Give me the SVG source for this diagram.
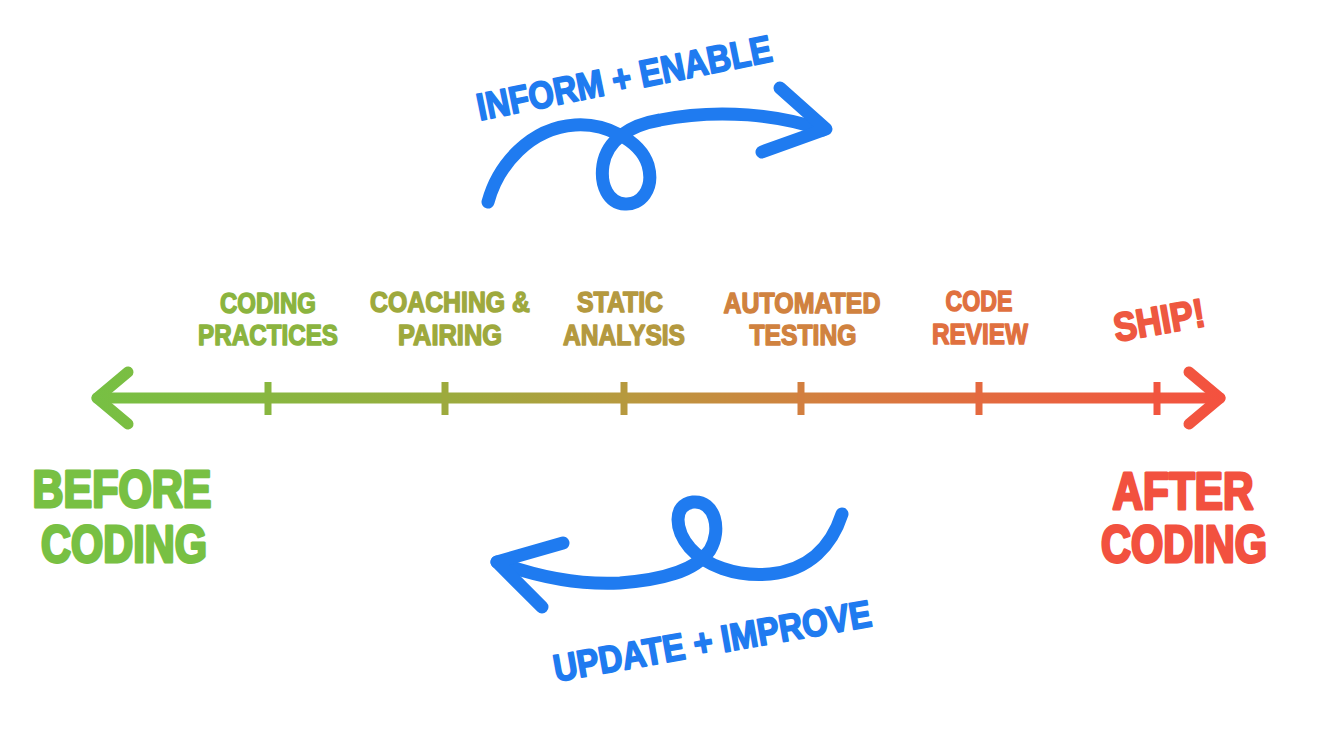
<svg xmlns="http://www.w3.org/2000/svg" width="1326" height="742" viewBox="0 0 1326 742">
<defs>
<linearGradient id="axisGrad" gradientUnits="userSpaceOnUse" x1="95" y1="0" x2="1222" y2="0">
<stop offset="0" stop-color="#77C043"/>
<stop offset="0.3" stop-color="#98AD3E"/>
<stop offset="0.47" stop-color="#B8993F"/>
<stop offset="0.65" stop-color="#D47E3F"/>
<stop offset="0.85" stop-color="#E8633F"/>
<stop offset="1" stop-color="#F4513F"/>
</linearGradient>
</defs>
<style>
.lbl{font-family:"Liberation Sans",Arial,sans-serif;font-weight:bold;text-anchor:middle;stroke-linejoin:round;stroke-linecap:round}
.sm{font-size:29px;stroke-width:1.5}
.big{font-size:51px;stroke-width:3}
.blue{fill:#1F7BF0;stroke:#1F7BF0}
.curve{fill:none;stroke:#1F7BF0;stroke-width:13;stroke-linecap:round;stroke-linejoin:round}
.axis{fill:none;stroke:url(#axisGrad);stroke-width:11;stroke-linecap:round;stroke-linejoin:round}
.tick{stroke-width:7;stroke-linecap:butt}
</style>
<rect width="1326" height="742" fill="#FFFFFF"/>

<g id="connectors">
<g id="timeline">
<path class="axis" d="M97,398 L1220,398"/>
<path class="axis" d="M128,372 L97,398 L128,424"/>
<path class="axis" d="M1189,372 L1220,398 L1189,424"/>
<line class="tick" x1="268" y1="382" x2="268" y2="415" stroke="#88B63F"/>
<line class="tick" x1="445" y1="382" x2="445" y2="415" stroke="#9DAA3D"/>
<line class="tick" x1="624" y1="382" x2="624" y2="415" stroke="#B6993E"/>
<line class="tick" x1="801" y1="382" x2="801" y2="415" stroke="#D27F3F"/>
<line class="tick" x1="979" y1="382" x2="979" y2="415" stroke="#E4693F"/>
<line class="tick" x1="1157" y1="382" x2="1157" y2="415" stroke="#F1553F"/>
</g>
<g id="inform-arrow">
<path class="curve" d="M488,202 C498,165 530,128 575,125 C605,123 640,140 648,165 C655,190 640,205 625,204 C608,203 600,185 603,165 C607,140 630,125 660,120 C720,108 780,115 823,130"/>
<path class="curve" d="M780,88 L826,129 L762,152"/>
</g>
<g id="update-arrow">
<path class="curve" d="M842,514 C832,545 810,570 770,574 C735,577 705,565 690,548 C675,530 672,505 693,502 C715,500 722,530 710,550 C695,572 660,580 620,583 C580,585 540,578 497,562"/>
<path class="curve" d="M563,543 L497,562 L542,607"/>
</g>
</g>

<g id="node-coding-practices">
<text class="lbl sm" fill="#8BB43F" stroke="#8BB43F" x="268" y="313" textLength="96" lengthAdjust="spacingAndGlyphs">CODING</text>
<text class="lbl sm" fill="#8BB43F" stroke="#8BB43F" x="268" y="345" textLength="140" lengthAdjust="spacingAndGlyphs">PRACTICES</text>
</g>
<g id="node-coaching">
<text class="lbl sm" fill="#9EA93D" stroke="#9EA93D" x="450" y="312" textLength="160" lengthAdjust="spacingAndGlyphs">COACHING &amp;</text>
<text class="lbl sm" fill="#9EA93D" stroke="#9EA93D" x="450" y="345" textLength="104" lengthAdjust="spacingAndGlyphs">PAIRING</text>
</g>
<g id="node-static">
<text class="lbl sm" fill="#B4993F" stroke="#B4993F" x="620" y="312" textLength="86" lengthAdjust="spacingAndGlyphs">STATIC</text>
<text class="lbl sm" fill="#B4993F" stroke="#B4993F" x="624" y="345" textLength="122" lengthAdjust="spacingAndGlyphs">ANALYSIS</text>
</g>
<g id="node-automated">
<text class="lbl sm" fill="#D0823F" stroke="#D0823F" x="802" y="313" textLength="157" lengthAdjust="spacingAndGlyphs">AUTOMATED</text>
<text class="lbl sm" fill="#D0823F" stroke="#D0823F" x="803" y="345" textLength="107" lengthAdjust="spacingAndGlyphs">TESTING</text>
</g>
<g id="node-review">
<text class="lbl sm" fill="#E0703F" stroke="#E0703F" x="979" y="311" textLength="67" lengthAdjust="spacingAndGlyphs">CODE</text>
<text class="lbl sm" fill="#E0703F" stroke="#E0703F" x="980" y="344" textLength="96" lengthAdjust="spacingAndGlyphs">REVIEW</text>
</g>
<g id="node-ship">
<text class="lbl" fill="#EE5840" stroke="#EE5840" stroke-width="2" font-size="40" x="1159" y="334" textLength="92" lengthAdjust="spacingAndGlyphs" transform="rotate(-10 1159 320)">SHIP!</text>
</g>
<g id="node-before">
<text class="lbl big" fill="#78C043" stroke="#78C043" x="122" y="507" textLength="179" lengthAdjust="spacingAndGlyphs">BEFORE</text>
<text class="lbl big" fill="#78C043" stroke="#78C043" x="124" y="562" textLength="166" lengthAdjust="spacingAndGlyphs">CODING</text>
</g>
<g id="node-after">
<text class="lbl big" fill="#F2513F" stroke="#F2513F" x="1183" y="509" textLength="141" lengthAdjust="spacingAndGlyphs">AFTER</text>
<text class="lbl big" fill="#F2513F" stroke="#F2513F" x="1184" y="562" textLength="166" lengthAdjust="spacingAndGlyphs">CODING</text>
</g>
<g id="label-inform">
<text class="lbl blue" font-size="38" stroke-width="1.8" x="624" y="91" textLength="300" lengthAdjust="spacingAndGlyphs" transform="rotate(-11.5 624 77)">INFORM + ENABLE</text>
</g>
<g id="label-update">
<text class="lbl blue" font-size="38" stroke-width="1.8" x="712" y="654" textLength="322" lengthAdjust="spacingAndGlyphs" transform="rotate(-10 712 640)">UPDATE + IMPROVE</text>
</g>
</svg>
